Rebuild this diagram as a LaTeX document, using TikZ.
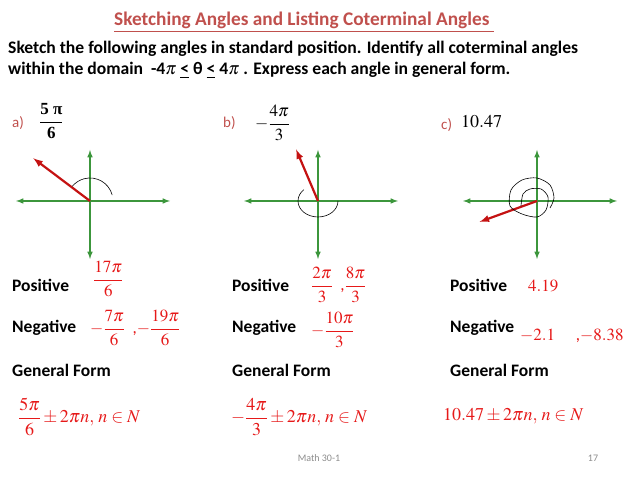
\documentclass[tikz,border=0pt]{standalone}
\usepackage{amsmath}
\usepackage{mathptmx}
\usepackage{fontspec}
\setmainfont{Carlito}
\newfontfamily\timesfont{Liberation Serif}
\usetikzlibrary{arrows}

\definecolor{titlered}{RGB}{192,80,77}
\definecolor{mathred}{RGB}{230,25,25}
\definecolor{axisgreen}{RGB}{60,150,60}
\definecolor{vecred}{RGB}{196,18,18}
\definecolor{footgrey}{RGB}{140,140,140}

\begin{document}
\begin{tikzpicture}[x=1pt,y=1pt]
\tikzstyle{every node}=[inner sep=0pt,anchor=west]
\tikzstyle{lbl}=[font=\bfseries\fontsize{17.5}{20}\selectfont]
\tikzstyle{ans}=[text=mathred,font=\fontsize{17}{20}\selectfont]
\tikzstyle{gform}=[text=mathred,font=\fontsize{18}{21}\selectfont]
\tikzstyle{part}=[text=titlered,font=\fontsize{15}{18}\selectfont]
\tikzstyle{axis}=[axisgreen,line width=1.5pt,<->,>=latex]
\tikzstyle{side}=[vecred,line width=2.2pt,-latex]
\tikzstyle{turn}=[black,line width=0.6pt]
\useasboundingbox (0,0) rectangle (638,478);

\node[anchor=center,text=titlered,font=\bfseries\fontsize{19.3}{23}\selectfont] (title) at (304,456)
  {\underline{Sketching Angles and Listing Coterminal Angles\ }};
\node[font=\bfseries\fontsize{17.6}{21}\selectfont] (intro1) at (8,429.5)
  {Sketch the following angles in standard position. Identify all coterminal angles};
\node[font=\bfseries\fontsize{17.6}{21}\selectfont] (intro2) at (8,408)
  {within the domain\ \ -4$\pi$ \underline{<} θ \underline{<} 4$\pi$ . Express each angle in general form.};

% the three angles
\node[part] (pa) at (12,355) {a)};
\node[font=\fontsize{17}{20}\selectfont] (anga) at (39,357)
  {$\dfrac{\text{\timesfont\bfseries 5 π}}{\text{\timesfont\bfseries 6}}$};
\node[part] (pb) at (223,355) {b)};
\node[font=\fontsize{17}{20}\selectfont] (angb) at (255,355) {$-\dfrac{4\pi}{3}$};
\node[part] (pc) at (441,353) {c)};
\node[font=\fontsize{18}{21}\selectfont] (angc) at (461,356) {$10.47$};

\foreach \n/\x in {a/90,b/318,c/537}{
  \coordinate (o\n) at (\x,277);
  \draw[axis] (o\n) ++(-74,0) -- ++(154,0);
  \draw[axis] (o\n) ++(0,51) -- ++(0,-109);
}
\draw[side] (oa) -- +(143:71);
\draw[turn] (oa) ++(15:23) arc (15:140:23);
\draw[side] (ob) -- +(113:56);
\draw[turn] (ob) ++(20,0) arc[start angle=0,end angle=-225,x radius=20,y radius=16];
\draw[side] (oc) -- +(200:61);
\draw[turn] plot[smooth] coordinates {(521,272) (523,284) (530,289) (541,289) (548,281) (546,268)
  (537,261) (522,264) (510,272) (511,288) (522,298) (537,300) (550,293) (554,280) (550,270)};

% answers for a)
\node[lbl] (posa) at (12,193) {Positive};
\node[ans] (posa1) at (93,199) {$\dfrac{17\pi}{6}$};
\node[lbl] (nega) at (12,150) {Negative};
\node[ans] (nega1) at (90,150) {$-\dfrac{7\pi}{6}$\ \ ,$-\dfrac{19\pi}{6}$};
\node[lbl] (gena) at (12,108) {General Form};
\node[gform] (gfa) at (18,61) {$\dfrac{5\pi}{6}\pm 2\pi n,\, n\in N$};

% answers for b)
\node[lbl] (posb) at (232,193) {Positive};
\node[ans] (posb1) at (311,193) {$\dfrac{2\pi}{3}$\ \ ,$\dfrac{8\pi}{3}$};
\node[lbl] (negb) at (232,150) {Negative};
\node[ans] (negb1) at (311,148) {$-\dfrac{10\pi}{3}$};
\node[lbl] (genb) at (232,108) {General Form};
\node[gform] (gfb) at (231,61) {$-\dfrac{4\pi}{3}\pm 2\pi n,\, n\in N$};

% answers for c)
\node[lbl] (posc) at (450,193) {Positive};
\node[ans] (posc1) at (528,192) {$4.19$};
\node[lbl] (negc) at (450,150) {Negative};
\node[ans] (negc1) at (520,142) {$-2.1$\quad\ ,$-8.38$};
\node[lbl] (genc) at (450,108) {General Form};
\node[gform] (gfc) at (443,62) {$10.47\pm 2\pi n,\, n\in N$};

\node[anchor=center,text=footgrey,font=\fontsize{10}{12}\selectfont] (foot) at (319,20) {Math 30-1};
\node[anchor=center,text=footgrey,font=\fontsize{10}{12}\selectfont] (page) at (593,20) {17};
\end{tikzpicture}
\end{document}
